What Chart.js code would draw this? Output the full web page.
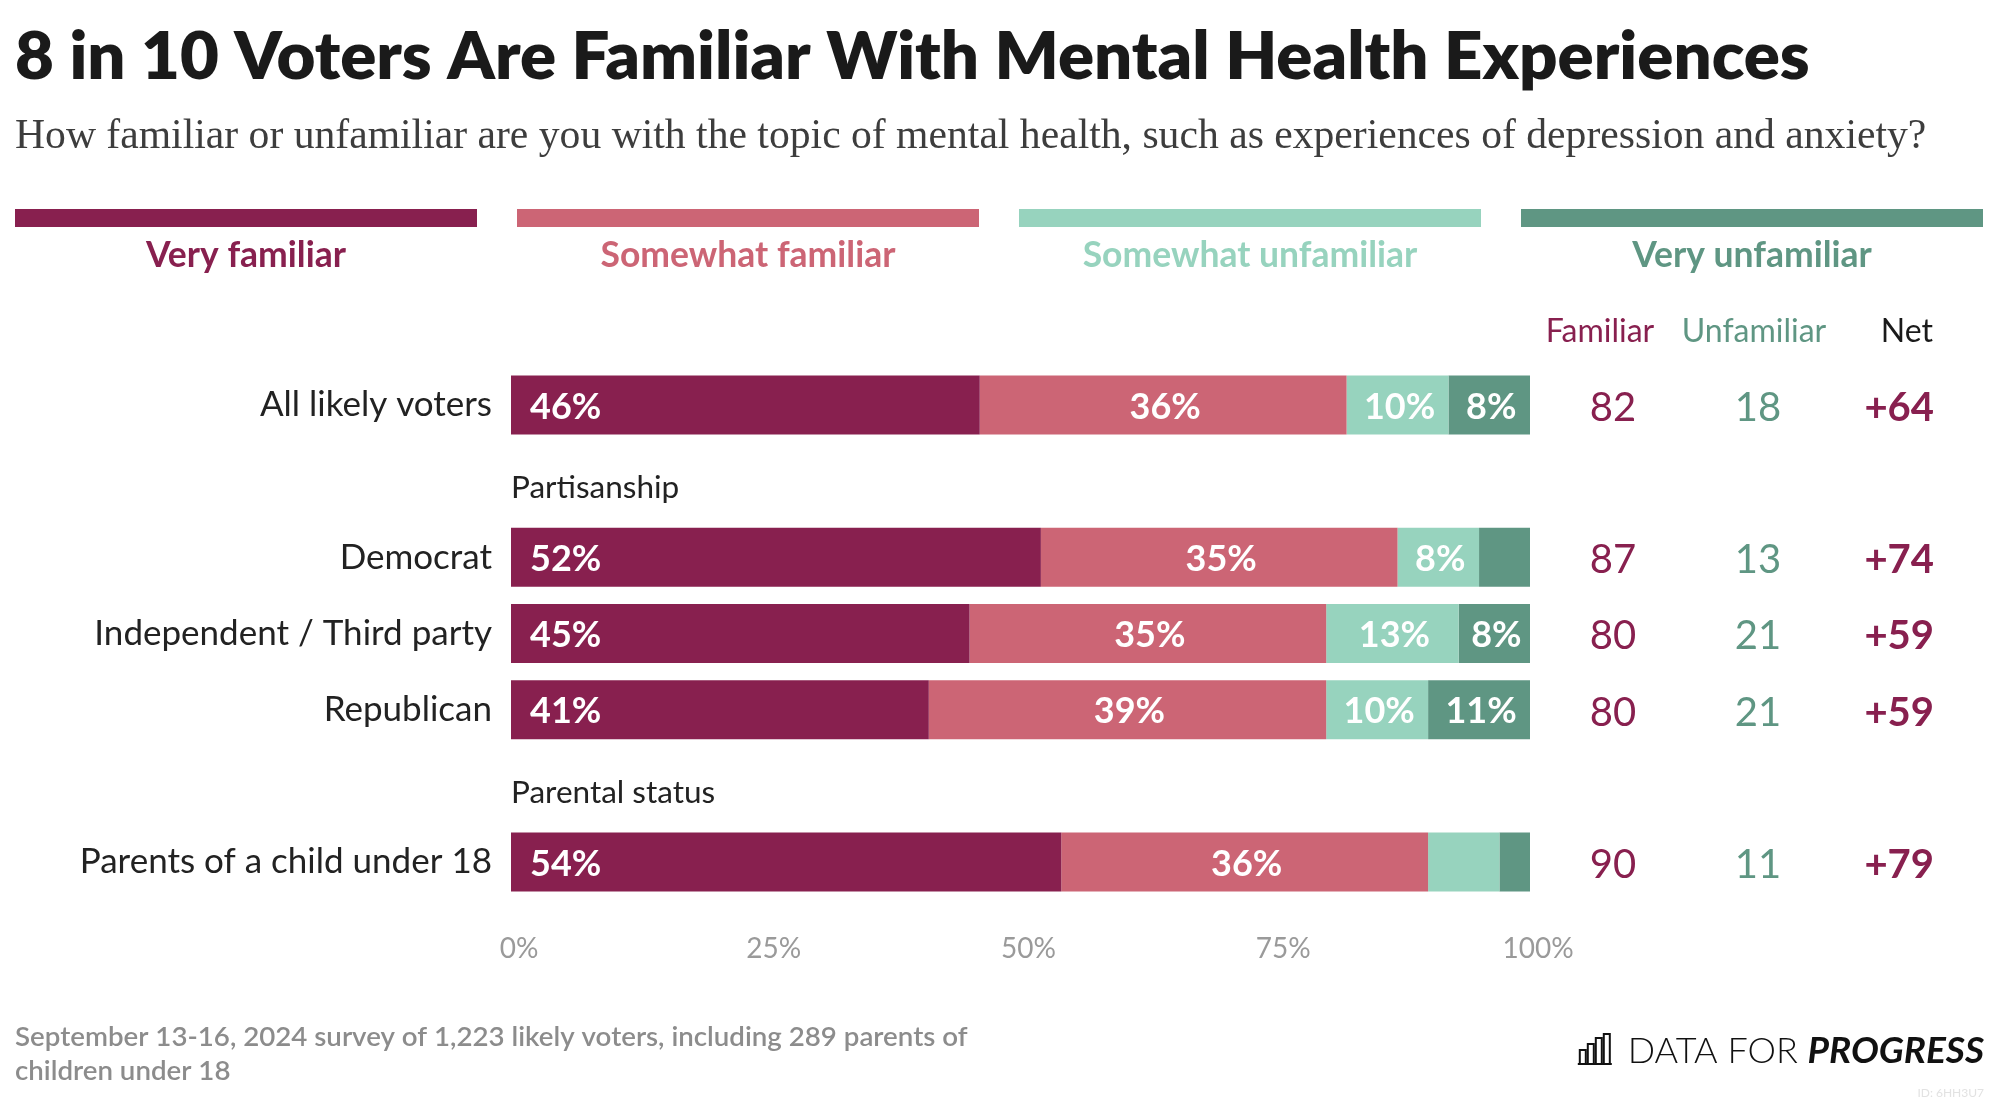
<!DOCTYPE html>
<html>
<head>
<meta charset="utf-8">
<script src="https://cdn.jsdelivr.net/npm/chart.js@4.4.1/dist/chart.umd.min.js"></script>
<style>
  html, body { margin: 0; padding: 0; background: #fff; }
  #wrap { width: 1999px; height: 1101px; }
</style>
</head>
<body>
<div id="wrap"><canvas id="chart" width="1999" height="1101"></canvas></div>
<script>
// rows of the chart, group headers sit in their own row
const rowLabels = ['All likely voters', 'Partisanship', 'Democrat', 'Independent / Third party', 'Republican', 'Parental status', 'Parents of a child under 18'];
const headerRows = [false, true, false, false, false, true, false];

const seriesNames = ['Very familiar', 'Somewhat familiar', 'Somewhat unfamiliar', 'Very unfamiliar'];
const seriesColors = ['#88204f', '#cc6575', '#97d3be', '#5f9683'];

const veryFamiliar       = [46, null, 52, 45, 41, null, 54];
const somewhatFamiliar   = [36, null, 35, 35, 39, null, 36];
const somewhatUnfamiliar = [10, null, 8, 13, 10, null, 7];
const veryUnfamiliar     = [8, null, 5, 8, 11, null, 4];

const familiarTotal   = [82, null, 87, 80, 80, null, 90];
const unfamiliarTotal = [18, null, 13, 21, 21, null, 11];
const netValues       = [64, null, 74, 59, 59, null, 79];

const xTicks = [0, 25, 50, 75, 100];

const FONT = 'Lato, "Open Sans", sans-serif';
const MAROON = '#88204f';
const GREEN = '#5f9683';

const seriesData = [veryFamiliar, somewhatFamiliar, somewhatUnfamiliar, veryUnfamiliar];

// shrink/grow a font until the text spans the wanted width
function fitText(ctx, text, fontTpl, target) {
    ctx.font = fontTpl(50);
    const size = 50 * target / ctx.measureText(text).width;
    ctx.font = fontTpl(size);
}

// everything that is not a bar: titles, legend, side columns, footer
const decorPlugin = {
    id: 'decor',
    beforeDraw(chart) {
        const ctx = chart.ctx;
        ctx.save();
        ctx.fillStyle = '#fff';
        ctx.fillRect(0, 0, chart.width, chart.height);
        ctx.restore();
    },
    afterDatasetsDraw(chart) {
        const ctx = chart.ctx;
        const area = chart.chartArea;
        ctx.save();
        ctx.textBaseline = 'middle';
        ctx.fillStyle = '#fff';
        ctx.font = `bold 36px ${FONT}`;
        chart.data.datasets.forEach((ds, d) => {
            const meta = chart.getDatasetMeta(d);
            meta.data.forEach((el, i) => {
                const v = ds.data[i];
                if (v == null || v < 8) return;
                const x0 = Math.min(el.base, el.x);
                const x1 = Math.min(Math.max(el.base, el.x), area.right);
                if (d === 0) {
                    ctx.textAlign = 'left';
                    ctx.fillText(v + '%', x0 + 19, el.y + 2);
                } else {
                    ctx.textAlign = 'center';
                    ctx.fillText(v + '%', (x0 + x1) / 2 + 2, el.y + 2);
                }
            });
        });
        ctx.restore();
    },
    afterDraw(chart) {
        const ctx = chart.ctx;
        const yScale = chart.scales.y;
        ctx.save();

        // title + subtitle
        const title = '8 in 10 Voters Are Familiar With Mental Health Experiences';
        const sub = 'How familiar or unfamiliar are you with the topic of mental health, such as experiences of depression and anxiety?';
        ctx.textBaseline = 'alphabetic';
        ctx.textAlign = 'left';
        ctx.fillStyle = '#1a1a1a';
        fitText(ctx, title, s => `800 ${s}px ${FONT}`, 1795);
        ctx.fillText(title, 15, 79);
        ctx.fillStyle = '#3d3d3d';
        fitText(ctx, sub, s => `${s}px "Liberation Serif", "DejaVu Serif", serif`, 1912);
        ctx.textBaseline = 'middle';
        ctx.fillText(sub, 15, 137);

        // legend strips
        const gap = 40, left = 15, total = 1968;
        const w = (total - gap * 3) / 4;
        seriesNames.forEach((name, k) => {
            const x = left + k * (w + gap);
            ctx.fillStyle = seriesColors[k];
            ctx.fillRect(x, 209, w, 18);
            ctx.font = `bold 35.5px ${FONT}`;
            ctx.textAlign = 'center';
            ctx.fillText(name, x + w / 2, 256);
        });

        // side column headers
        ctx.font = `32px ${FONT}`;
        ctx.textAlign = 'center';
        ctx.fillStyle = MAROON;
        ctx.fillText('Familiar', 1600, 332);
        ctx.fillStyle = GREEN;
        ctx.fillText('Unfamiliar', 1754, 332);
        ctx.fillStyle = '#1a1a1a';
        ctx.textAlign = 'right';
        ctx.fillText('Net', 1933, 332);

        // side columns + group headers
        rowLabels.forEach((lab, i) => {
            const y = yScale.getPixelForValue(i);
            if (headerRows[i]) {
                ctx.font = `31.5px ${FONT}`;
                ctx.fillStyle = '#222';
                ctx.textAlign = 'left';
                ctx.fillText(lab, chart.chartArea.left, y + 7);
                return;
            }
            ctx.font = `40px ${FONT}`;
            ctx.textAlign = 'center';
            ctx.fillStyle = MAROON;
            ctx.fillText(String(familiarTotal[i]), 1613, y + 3);
            ctx.fillStyle = GREEN;
            ctx.fillText(String(unfamiliarTotal[i]), 1758, y + 3);
            ctx.font = `bold 40px ${FONT}`;
            ctx.fillStyle = MAROON;
            ctx.textAlign = 'right';
            const n = netValues[i];
            ctx.fillText((n > 0 ? '+' : '') + n, 1934, y + 3);
        });

        // footer
        ctx.font = `600 27.7px ${FONT}`;
        ctx.fillStyle = '#8c8c8c';
        ctx.textAlign = 'left';
        ctx.fillText('September 13-16, 2024 survey of 1,223 likely voters, including 289 parents of', 15, 1037);
        ctx.fillText('children under 18', 15, 1071);

        // logo
        ctx.textAlign = 'right';
        ctx.fillStyle = '#111';
        ctx.font = `italic bold 37px ${FONT}`;
        const prog = 'PROGRESS';
        const pw = ctx.measureText(prog).width;
        ctx.fillText(prog, 1984, 1051);
        ctx.font = `300 36px ${FONT}`;
        const dataFor = 'DATA FOR ';
        const dw = ctx.measureText(dataFor).width;
        ctx.fillText(dataFor, 1984 - pw, 1051);
        const ix = 1984 - pw - dw - 48;
        ctx.strokeStyle = '#111';
        ctx.lineWidth = 2;
        const bars = [[0, 14], [8, 20], [16, 26], [24, 30]];
        bars.forEach(b => ctx.strokeRect(ix + b[0], 1064 - b[1], 6, b[1]));
        ctx.beginPath();
        ctx.moveTo(ix - 2, 1064);
        ctx.lineTo(ix + 32, 1064);
        ctx.stroke();

        ctx.font = `12px ${FONT}`;
        ctx.fillStyle = '#e2e2e2';
        ctx.fillText('ID: 6HH3U7', 1984, 1093);
        ctx.restore();
    }
};

new Chart(document.getElementById('chart'), {
    type: 'bar',
    data: {
        labels: rowLabels,
        datasets: seriesNames.map((name, k) => ({
            label: name,
            data: seriesData[k],
            backgroundColor: seriesColors[k],
            borderWidth: 0,
            barPercentage: 0.775,
            categoryPercentage: 1
        }))
    },
    options: {
        indexAxis: 'y',
        responsive: false,
        animation: false,
        devicePixelRatio: 1,
        layout: { padding: { top: 367, right: 469, bottom: 121, left: 0 } },
        plugins: {
            legend: { display: false },
            tooltip: { enabled: false }
        },
        scales: {
            x: {
                stacked: true,
                min: 0,
                max: 100,
                grid: { display: false },
                border: { display: false },
                afterFit: (scale) => { scale.height = 80; },
                afterBuildTicks: (scale) => { scale.ticks = xTicks.map(v => ({ value: v })); },
                ticks: {
                    color: '#9a9a9a',
                    font: { family: FONT, size: 28 },
                    padding: 24,
                    labelOffset: 8,
                    callback: (v) => v + '%'
                }
            },
            y: {
                stacked: true,
                grid: { display: false },
                border: { display: false },
                afterFit: (scale) => { scale.width = 511; },
                ticks: {
                    color: '#222',
                    font: { family: FONT, size: 35 },
                    padding: 11,
                    callback: (v, i) => headerRows[i] ? '' : rowLabels[i]
                }
            }
        }
    },
    plugins: [decorPlugin]
});
</script>
</body>
</html>
